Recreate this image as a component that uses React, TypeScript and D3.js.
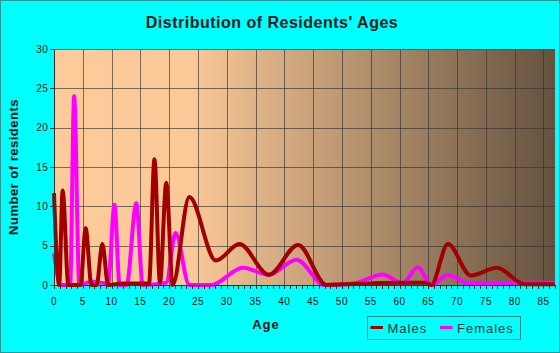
import React from "react";
import * as d3 from "d3";

// ages where the curve was read, with the value at that age
const maleAges = [0, 0.9, 1.5, 2.5, 4.6, 5.5, 6.5, 7.4, 8.4, 9.4, 12, 16.5, 17.45, 18.4, 19.5, 20.6, 23.5, 28.1, 32.2, 37.3, 42.4, 47.3, 50, 55, 60, 64.5, 65.5, 68.4, 72.4, 76.9, 81.7, 87];
const maleValues = [11.7, 0, 12, 0, 0, 7.2, 0, 0, 5.2, 0, 0.2, 0.2, 16, 0.3, 13, 0, 11.2, 3.1, 5.2, 1.3, 5.1, 0, 0.1, 0.2, 0.3, 0.3, 0, 5.2, 1.2, 2.2, 0.1, 0.1];

const femaleAges = [0, 1.2, 2.8, 3.5, 4.4, 6.5, 9.4, 10.5, 11.4, 12.6, 14.3, 15.4, 19.5, 21.1, 23.5, 27.3, 32.8, 37.3, 42.1, 47, 52, 57.1, 60.5, 63.2, 65.5, 68.4, 72, 80, 87];
const femaleValues = [4, 0, 0, 24, 0, 0.4, 0.2, 10.2, 0, 0, 10.4, 0, 0.3, 6.6, 0, 0, 2.2, 1.3, 3.2, 0, 0.2, 1.35, 0.2, 2.25, 0, 1.27, 0.2, 0.3, 0.3];

const xTicks = d3.range(0, 90, 5);
const yTicks = [0, 5, 10, 15, 20, 25, 30];
const seriesNames = ["Males", "Females"];
const seriesColors = ["#A00000", "#FF00FF"];

const W = 560;
const H = 353;
const margin = { top: 49, right: 5, bottom: 68, left: 54 };
const font = "'Liberation Sans', Arial, sans-serif";

export default function App() {
  const x = d3.scaleLinear().domain([0, 87]).range([margin.left, W - margin.right]);
  const y = d3.scaleLinear().domain([0, 30]).range([H - margin.bottom, margin.top]);

  const line = d3
    .line<[number, number]>()
    .x((d) => x(d[0]))
    .y((d) => y(d[1]))
    .curve(d3.curveMonotoneX);

  const males = maleAges.map((a, i) => [a, maleValues[i]] as [number, number]);
  const females = femaleAges.map((a, i) => [a, femaleValues[i]] as [number, number]);

  const x0 = x(0), x1 = x(87), yb = y(0), yt = y(30);

  return (
    <svg width={W} height={H} style={{ position: "absolute", left: 0, top: 0, display: "block" }}>
      <defs>
        <linearGradient id="bg" x1="0" x2="1" y1="0" y2="0">
          <stop offset="0%" stopColor="#FDCB9A" />
          <stop offset="27%" stopColor="#FBC998" />
          <stop offset="100%" stopColor="#64523F" />
        </linearGradient>
      </defs>
      <rect x={0.5} y={0.5} width={W - 1} height={H - 1} fill="#00FFFF" stroke="#2E9595" />
      <text x={272} y={28} textAnchor="middle" fontFamily={font} fontWeight="bold" fontSize={16} letterSpacing={0.5} fill="#1a1a1a">
        Distribution of Residents' Ages
      </text>

      <rect x={x0} y={yt} width={x1 - x0} height={yb - yt} fill="url(#bg)" />

      {/* grid */}
      {xTicks.filter((t) => t > 0).map((t) => (
        <line key={"gx" + t} x1={Math.round(x(t)) + 0.5} x2={Math.round(x(t)) + 0.5} y1={yt} y2={yb} stroke="#333" strokeOpacity={0.65} />
      ))}
      {yTicks.filter((t) => t > 0).map((t) => (
        <line key={"gy" + t} x1={x0} x2={x1} y1={Math.round(y(t)) + 0.5} y2={Math.round(y(t)) + 0.5} stroke="#333" strokeOpacity={0.65} />
      ))}

      <path d={line(females) || ""} fill="none" stroke={seriesColors[1]} strokeWidth={4} strokeLinejoin="round" />
      <path d={line(males) || ""} fill="none" stroke={seriesColors[0]} strokeWidth={4} strokeLinejoin="round" />

      {/* axes */}
      <line x1={x0} x2={x1} y1={yb + 0.5} y2={yb + 0.5} stroke="#333" />
      <line x1={x0 + 0.5} x2={x0 + 0.5} y1={yt} y2={yb} stroke="#333" />
      {d3.range(0, 88).map((t) => (
        <line key={"tx" + t} x1={Math.round(x(t)) + 0.5} x2={Math.round(x(t)) + 0.5} y1={yb} y2={yb + 4} stroke="#333" />
      ))}
      {yTicks.map((t) => (
        <line key={"ty" + t} x1={x0 - 4} x2={x0} y1={Math.round(y(t)) + 0.5} y2={Math.round(y(t)) + 0.5} stroke="#333" />
      ))}
      {xTicks.map((t) => (
        <text key={"lx" + t} x={x(t)} y={305} textAnchor="middle" fontFamily={font} fontSize={10} letterSpacing={0.5} fill="#111">
          {t}
        </text>
      ))}
      {yTicks.map((t) => (
        <text key={"ly" + t} x={48} y={y(t) + 3.5} textAnchor="end" fontFamily={font} fontSize={10} letterSpacing={0.3} fill="#111">
          {t}
        </text>
      ))}

      <text x={266} y={329} textAnchor="middle" fontFamily={font} fontWeight="bold" fontSize={13} letterSpacing={1} fill="#111">
        Age
      </text>
      <text transform={`translate(18,${(yt + yb) / 2}) rotate(-90)`} textAnchor="middle" fontFamily={font} fontWeight="bold" fontSize={13} letterSpacing={0.5} fill="#111">
        Number of residents
      </text>

      {/* legend */}
      <rect x={367.5} y={316.5} width={153} height={23} fill="none" stroke="#2E8A8A" />
      {seriesNames.map((name, i) => {
        const lx = i === 0 ? 370.5 : 440;
        return (
          <g key={name}>
            <line x1={lx} x2={lx + 12.5} y1={327.5} y2={327.5} stroke={seriesColors[i]} strokeWidth={3} />
            <text x={lx + 17} y={332.5} fontFamily={font} fontSize={13} letterSpacing={1} fill="#113333">
              {name}
            </text>
          </g>
        );
      })}
    </svg>
  );
}
